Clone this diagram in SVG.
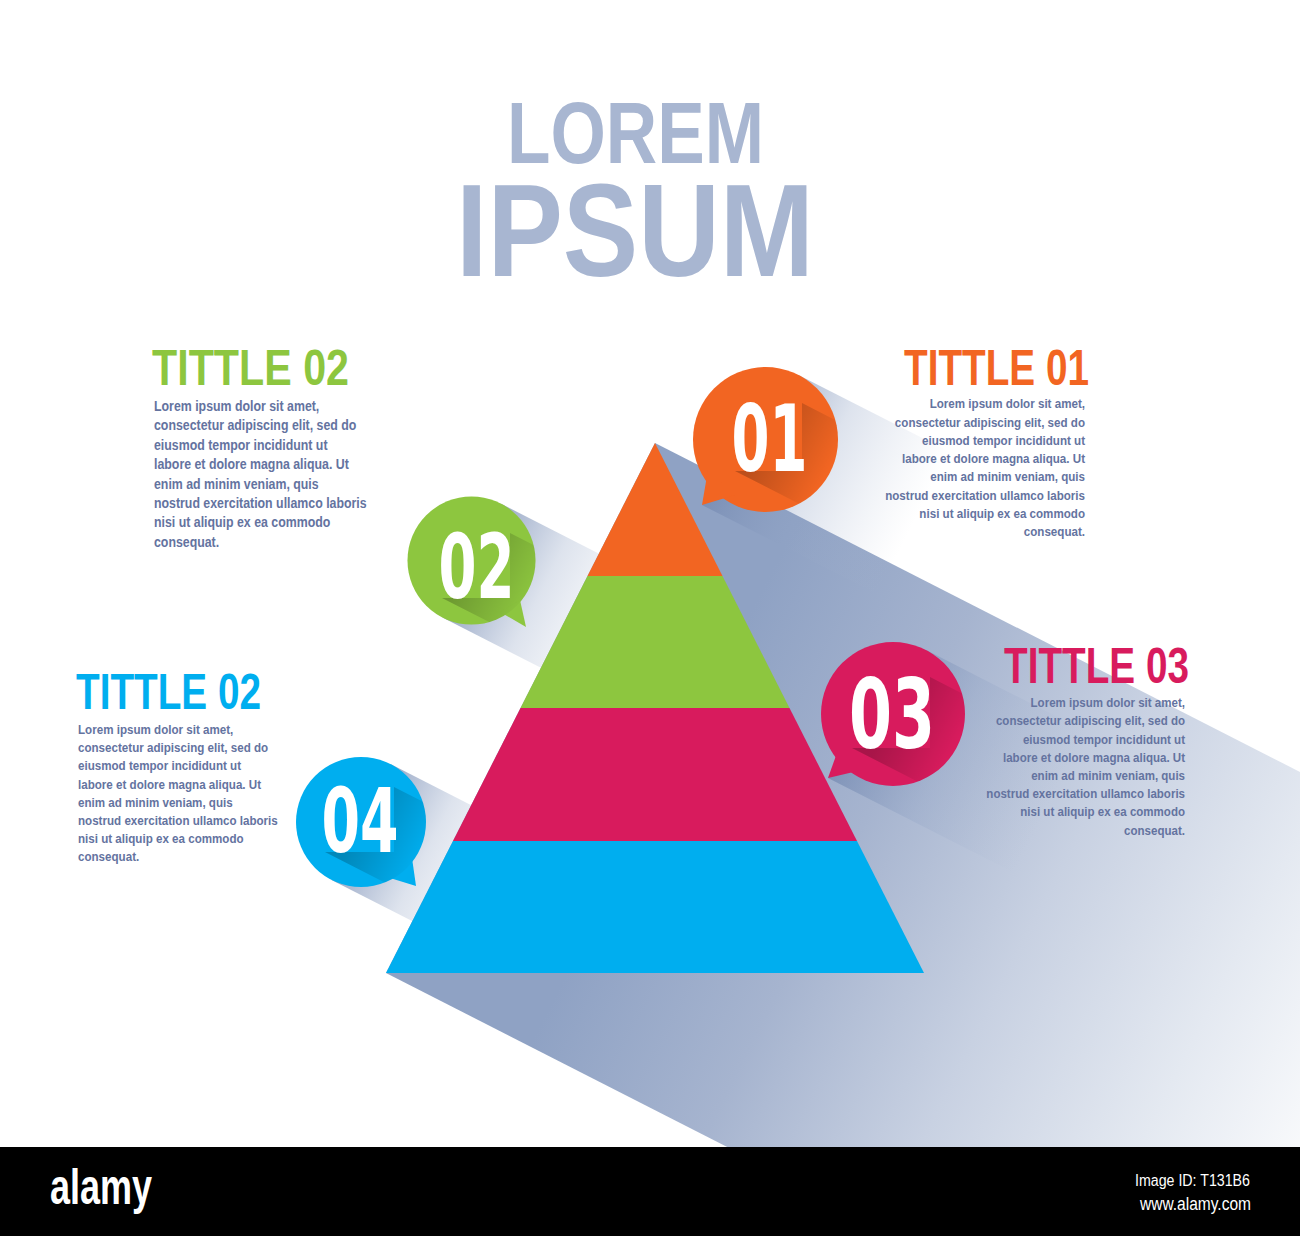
<svg xmlns="http://www.w3.org/2000/svg" width="1300" height="1236" viewBox="0 0 1300 1236">
<style>
.hd{font-family:"Liberation Sans",Arial,sans-serif;font-weight:700;fill:#a8b6d1}
.tt{font-family:"Liberation Sans",Arial,sans-serif;font-weight:700;font-size:50px}
.bd{font-family:"Liberation Sans",Arial,sans-serif;font-weight:700;fill:#64739f}
.num{font-family:"DejaVu Sans Condensed","DejaVu Sans",sans-serif;font-weight:700;fill:#ffffff}
.ft{font-family:"Liberation Sans",Arial,sans-serif;fill:#ffffff}
</style>
<defs>
<linearGradient id="pshadow" gradientUnits="userSpaceOnUse" x1="655" y1="800" x2="1355" y2="1157">
<stop offset="0" stop-color="#8fa2c4"/>
<stop offset="0.25" stop-color="#a6b4cf"/>
<stop offset="0.5" stop-color="#c8d1e2"/>
<stop offset="0.75" stop-color="#e4e9f1"/>
<stop offset="1" stop-color="#ffffff"/>
</linearGradient>
<linearGradient id="bshadow" x1="0" y1="0" x2="1" y2="0">
<stop offset="0" stop-color="#7489b1" stop-opacity="0.75"/>
<stop offset="0.45" stop-color="#8fa2c4" stop-opacity="0.3"/>
<stop offset="1" stop-color="#a8b6d0" stop-opacity="0"/>
</linearGradient>
<linearGradient id="nshadow" gradientUnits="userSpaceOnUse" x1="0" y1="0" x2="62" y2="32">
<stop offset="0" stop-color="#000" stop-opacity="0.22"/>
<stop offset="1" stop-color="#000" stop-opacity="0"/>
</linearGradient>
<clipPath id="c1"><circle cx="0" cy="0" r="72.5"/></clipPath>
<clipPath id="c2"><circle cx="0" cy="0" r="64"/></clipPath>
<clipPath id="c3"><circle cx="0" cy="0" r="72"/></clipPath>
<clipPath id="c4"><circle cx="0" cy="0" r="65"/></clipPath>
</defs>
<rect x="0" y="0" width="1300" height="1236" fill="#ffffff"/>

<g id="heading">
<text class="hd" x="507" y="163" font-size="88" textLength="257" lengthAdjust="spacingAndGlyphs">LOREM</text>
<text class="hd" x="456" y="276" font-size="131" textLength="358" lengthAdjust="spacingAndGlyphs">IPSUM</text>
</g>

<g id="shadows">
<polygon points="655,443 2255,1259 1986,1789 386,973" fill="url(#pshadow)"/>
<path transform="translate(765.5,439.5) rotate(27)" d="M0,-72.5 L170,-72.5 L170,87.2 L-26.9,87.2 Z" fill="url(#bshadow)"/>
<path transform="translate(471.5,560.5) rotate(27)" d="M0,-64 L170,-64 L170,64 L0,64 Z" fill="url(#bshadow)"/>
<path transform="translate(893,714) rotate(27)" d="M0,-72 L180,-72 L180,86.5 L-28.9,86.5 Z" fill="url(#bshadow)"/>
<path transform="translate(361,822) rotate(27)" d="M0,-65 L160,-65 L160,65 L0,65 Z" fill="url(#bshadow)"/>
</g>

<g id="pyramid">
<polygon points="655,443 722.5,576 587.5,576" fill="#f26522"/>
<polygon points="587.5,576 722.5,576 789.5,708 520.5,708" fill="#8dc63f"/>
<polygon points="520.5,708 789.5,708 857,841 453,841" fill="#d81b5d"/>
<polygon points="453,841 857,841 924,973 386,973" fill="#00aeef"/>
</g>

<g id="bubble01" transform="translate(765.5,439.5)">
<circle cx="0" cy="0" r="72.5" fill="#f26522"/>
<path d="M-57.5,30.5 L-63.5,65.5 L-30.5,55.5 Z" fill="#f26522"/>
<polygon clip-path="url(#c1)" points="36.5,-36.5 214.5,54.5 147.5,122.5 -30.5,31.5 36.5,31.5" fill="url(#nshadow)"/>
<text class="num" x="-34" y="31.5" font-size="93" textLength="76" lengthAdjust="spacingAndGlyphs">01</text>
</g>

<g id="bubble02" transform="translate(471.5,560.5)">
<circle cx="0" cy="0" r="64" fill="#8dc63f"/>
<path d="M48.5,39.5 L54.5,66.5 L28.5,51.5 Z" fill="#8dc63f"/>
<polygon clip-path="url(#c2)" points="38.5,-27.5 216.5,63.5 149.5,128.5 -29.5,37.5 38.5,37.5" fill="url(#nshadow)"/>
<text class="num" x="-33" y="37.5" font-size="89" textLength="76" lengthAdjust="spacingAndGlyphs">02</text>
</g>

<g id="bubble03" transform="translate(893,714)">
<circle cx="0" cy="0" r="72" fill="#d81b5d"/>
<path d="M-55,36 L-65,64 L-31,56 Z" fill="#d81b5d"/>
<polygon clip-path="url(#c3)" points="37,-37 215,54 137,125 -41,34 37,34" fill="url(#nshadow)"/>
<text class="num" x="-44" y="34" font-size="97" textLength="86" lengthAdjust="spacingAndGlyphs">03</text>
</g>

<g id="bubble04" transform="translate(361,822)">
<circle cx="0" cy="0" r="65" fill="#00aeef"/>
<path d="M51,36 L55,64 L29,56 Z" fill="#00aeef"/>
<polygon clip-path="url(#c4)" points="33,-35 211,56 142,121 -36,30 33,30" fill="url(#nshadow)"/>
<text class="num" x="-39.5" y="30" font-size="89" textLength="77" lengthAdjust="spacingAndGlyphs">04</text>
</g>

<g id="block01">
<text class="tt" x="904" y="385" fill="#f26522" font-size="49" textLength="185" lengthAdjust="spacingAndGlyphs">TITTLE 01</text>
<g class="bd" font-size="13" text-anchor="end" transform="translate(1085,408.3) scale(0.893,1)">
<text x="0" y="0">Lorem ipsum dolor sit amet,</text>
<text x="0" y="18.3">consectetur adipiscing elit, sed do</text>
<text x="0" y="36.6">eiusmod tempor incididunt ut</text>
<text x="0" y="54.9">labore et dolore magna aliqua. Ut</text>
<text x="0" y="73.2">enim ad minim veniam, quis</text>
<text x="0" y="91.5">nostrud exercitation ullamco laboris</text>
<text x="0" y="109.8">nisi ut aliquip ex ea commodo</text>
<text x="0" y="128.1">consequat.</text>
</g>
</g>

<g id="block02">
<text class="tt" x="152" y="385" fill="#8dc63f" font-size="53" textLength="197" lengthAdjust="spacingAndGlyphs">TITTLE 02</text>
<g class="bd" font-size="14" transform="translate(154,411) scale(0.883,1)">
<text x="0" y="0">Lorem ipsum dolor sit amet,</text>
<text x="0" y="19.4">consectetur adipiscing elit, sed do</text>
<text x="0" y="38.8">eiusmod tempor incididunt ut</text>
<text x="0" y="58.2">labore et dolore magna aliqua. Ut</text>
<text x="0" y="77.6">enim ad minim veniam, quis</text>
<text x="0" y="97">nostrud exercitation ullamco laboris</text>
<text x="0" y="116.4">nisi ut aliquip ex ea commodo</text>
<text x="0" y="135.8">consequat.</text>
</g>
</g>

<g id="block03">
<text class="tt" x="1004" y="683" fill="#d81b5d" font-size="49" textLength="185" lengthAdjust="spacingAndGlyphs">TITTLE 03</text>
<g class="bd" font-size="13" text-anchor="end" transform="translate(1185,707.3) scale(0.888,1)">
<text x="0" y="0">Lorem ipsum dolor sit amet,</text>
<text x="0" y="18.2">consectetur adipiscing elit, sed do</text>
<text x="0" y="36.4">eiusmod tempor incididunt ut</text>
<text x="0" y="54.6">labore et dolore magna aliqua. Ut</text>
<text x="0" y="72.8">enim ad minim veniam, quis</text>
<text x="0" y="91">nostrud exercitation ullamco laboris</text>
<text x="0" y="109.2">nisi ut aliquip ex ea commodo</text>
<text x="0" y="127.4">consequat.</text>
</g>
</g>

<g id="block04">
<text class="tt" x="76" y="709" fill="#00aeef" font-size="50" textLength="185" lengthAdjust="spacingAndGlyphs">TITTLE 02</text>
<g class="bd" font-size="13" transform="translate(78,734) scale(0.893,1)">
<text x="0" y="0">Lorem ipsum dolor sit amet,</text>
<text x="0" y="18.2">consectetur adipiscing elit, sed do</text>
<text x="0" y="36.4">eiusmod tempor incididunt ut</text>
<text x="0" y="54.6">labore et dolore magna aliqua. Ut</text>
<text x="0" y="72.8">enim ad minim veniam, quis</text>
<text x="0" y="91">nostrud exercitation ullamco laboris</text>
<text x="0" y="109.2">nisi ut aliquip ex ea commodo</text>
<text x="0" y="127.4">consequat.</text>
</g>
</g>

<g id="footer">
<rect x="0" y="1147" width="1300" height="89" fill="#000000"/>
<text class="ft" x="50" y="1204" font-size="50" font-weight="700" textLength="102" lengthAdjust="spacingAndGlyphs">alamy</text>
<text class="ft" x="1250" y="1186" font-size="16" text-anchor="end" textLength="115" lengthAdjust="spacingAndGlyphs">Image ID: T131B6</text>
<text class="ft" x="1251" y="1210" font-size="18" text-anchor="end" textLength="111" lengthAdjust="spacingAndGlyphs">www.alamy.com</text>
</g>
</svg>
